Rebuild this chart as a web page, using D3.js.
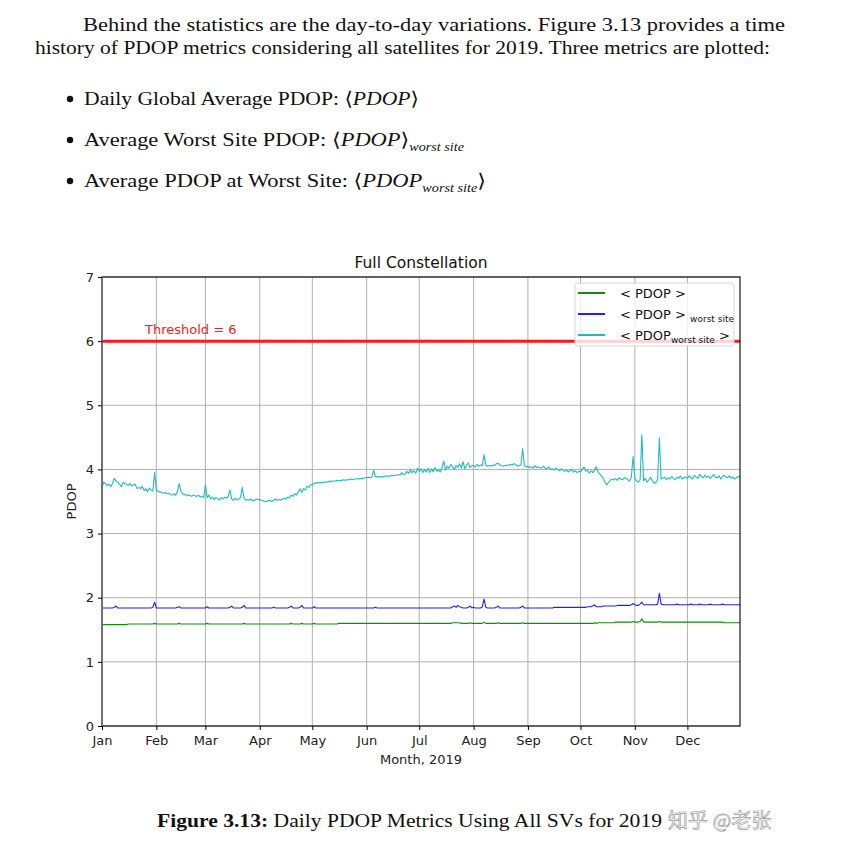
<!DOCTYPE html>
<html>
<head>
<meta charset="utf-8">
<script src="https://cdn.jsdelivr.net/npm/d3@7"></script>
<style>
  html, body { margin: 0; background: #ffffff; }
</style>
</head>
<body>
<div id="chart"></div>
<script>
// Daily PDOP metrics, all SVs, 2019 (one per day)

const startDate = "2019-01-01";
const monthLabels = ["Jan", "Feb", "Mar", "Apr", "May", "Jun", "Jul", "Aug", "Sep", "Oct", "Nov", "Dec"];
const yTicks = [0, 1, 2, 3, 4, 5, 6, 7];
const threshold = 6;

// <PDOP>
const pdopAvg = [
  1.58,1.58,1.58,1.58,1.58,1.58,1.58,1.58,1.58,1.58,1.58,1.58,1.58,1.58,1.58,1.59,1.59,1.59,1.59,1.59,1.59,1.59,1.59,1.59,1.59,1.59,1.59,1.59,1.59,1.59,1.60,
  1.59,1.59,1.59,1.59,1.59,1.59,1.59,1.59,1.59,1.59,1.59,1.59,1.59,1.60,1.59,1.59,1.59,1.59,1.59,1.59,1.59,1.59,1.59,1.59,1.59,1.59,1.59,1.59,
  1.59,1.60,1.59,1.59,1.59,1.59,1.59,1.59,1.59,1.59,1.59,1.59,1.59,1.59,1.59,1.59,1.59,1.59,1.59,1.59,1.59,1.59,1.60,1.59,1.59,1.59,1.59,1.59,1.59,1.59,1.59,
  1.59,1.59,1.59,1.59,1.59,1.59,1.59,1.59,1.59,1.59,1.59,1.59,1.59,1.59,1.59,1.59,1.59,1.59,1.60,1.59,1.59,1.59,1.59,1.59,1.60,1.59,1.59,1.59,1.59,1.59,
  1.59,1.60,1.59,1.59,1.59,1.59,1.59,1.59,1.59,1.59,1.59,1.59,1.59,1.59,1.59,1.60,1.60,1.60,1.60,1.60,1.60,1.60,1.60,1.60,1.60,1.60,1.60,1.60,1.60,1.60,1.60,
  1.60,1.60,1.60,1.60,1.60,1.60,1.60,1.60,1.60,1.60,1.60,1.60,1.60,1.60,1.60,1.60,1.60,1.60,1.60,1.60,1.60,1.60,1.60,1.60,1.60,1.60,1.60,1.60,1.60,1.60,
  1.60,1.60,1.60,1.60,1.60,1.60,1.60,1.60,1.60,1.60,1.60,1.60,1.60,1.60,1.60,1.60,1.60,1.60,1.60,1.61,1.61,1.61,1.61,1.61,1.60,1.60,1.60,1.60,1.60,1.61,1.60,
  1.60,1.60,1.60,1.60,1.60,1.60,1.62,1.60,1.60,1.60,1.60,1.60,1.60,1.60,1.61,1.60,1.60,1.60,1.60,1.60,1.60,1.60,1.60,1.60,1.60,1.60,1.60,1.60,1.61,1.60,1.60,
  1.60,1.60,1.60,1.60,1.60,1.60,1.60,1.60,1.60,1.60,1.60,1.60,1.60,1.60,1.60,1.60,1.60,1.60,1.60,1.60,1.60,1.60,1.60,1.60,1.60,1.60,1.60,1.60,1.60,1.60,
  1.60,1.60,1.60,1.60,1.60,1.60,1.60,1.60,1.61,1.60,1.61,1.61,1.61,1.61,1.61,1.61,1.61,1.61,1.61,1.61,1.62,1.62,1.62,1.62,1.62,1.62,1.62,1.62,1.62,1.62,1.63,
  1.62,1.62,1.62,1.63,1.67,1.62,1.62,1.62,1.62,1.62,1.62,1.62,1.62,1.62,1.63,1.62,1.62,1.62,1.62,1.62,1.62,1.62,1.62,1.62,1.62,1.62,1.62,1.62,1.62,1.62,
  1.62,1.62,1.62,1.62,1.62,1.62,1.62,1.62,1.62,1.62,1.62,1.62,1.62,1.62,1.62,1.62,1.62,1.62,1.62,1.62,1.62,1.61,1.61,1.61,1.61,1.61,1.61,1.61,1.61,1.61,1.61
];

// <PDOP>_worst site
const pdopWorst = [
  1.84,1.84,1.84,1.84,1.84,1.84,1.84,1.85,1.87,1.84,1.84,1.84,1.84,1.84,1.84,1.84,1.84,1.84,1.84,1.84,1.84,1.84,1.84,1.84,1.84,1.84,1.84,1.84,1.84,1.85,1.93,
  1.84,1.84,1.84,1.84,1.84,1.84,1.84,1.84,1.84,1.84,1.84,1.84,1.85,1.86,1.84,1.84,1.84,1.84,1.84,1.84,1.84,1.84,1.84,1.84,1.84,1.84,1.84,1.84,
  1.84,1.86,1.84,1.84,1.84,1.84,1.84,1.84,1.84,1.84,1.84,1.84,1.84,1.84,1.85,1.87,1.84,1.84,1.84,1.84,1.84,1.85,1.88,1.84,1.84,1.84,1.84,1.84,1.84,1.84,1.84,
  1.84,1.84,1.84,1.84,1.84,1.84,1.84,1.84,1.85,1.84,1.84,1.84,1.84,1.84,1.84,1.84,1.84,1.85,1.87,1.84,1.84,1.84,1.84,1.85,1.88,1.84,1.84,1.84,1.84,1.84,
  1.84,1.86,1.84,1.84,1.84,1.84,1.84,1.84,1.84,1.84,1.84,1.84,1.84,1.84,1.84,1.84,1.84,1.84,1.84,1.84,1.84,1.84,1.84,1.84,1.84,1.84,1.84,1.84,1.84,1.84,1.84,
  1.84,1.84,1.84,1.84,1.84,1.85,1.84,1.84,1.84,1.84,1.84,1.84,1.84,1.84,1.84,1.84,1.84,1.84,1.84,1.84,1.84,1.84,1.84,1.84,1.84,1.84,1.84,1.84,1.84,1.84,
  1.84,1.84,1.84,1.84,1.84,1.84,1.84,1.84,1.84,1.84,1.84,1.84,1.84,1.84,1.84,1.84,1.84,1.84,1.84,1.86,1.87,1.85,1.88,1.86,1.85,1.84,1.84,1.84,1.85,1.87,1.84,
  1.85,1.84,1.84,1.84,1.84,1.86,1.98,1.85,1.84,1.84,1.84,1.84,1.84,1.85,1.87,1.84,1.84,1.84,1.84,1.84,1.84,1.84,1.84,1.84,1.84,1.84,1.84,1.85,1.87,1.84,1.84,
  1.84,1.84,1.84,1.84,1.84,1.84,1.84,1.84,1.84,1.84,1.84,1.84,1.84,1.84,1.84,1.85,1.85,1.85,1.85,1.85,1.85,1.85,1.85,1.85,1.85,1.85,1.85,1.85,1.85,1.85,
  1.85,1.85,1.85,1.85,1.86,1.86,1.86,1.87,1.89,1.86,1.86,1.86,1.86,1.87,1.87,1.87,1.87,1.87,1.87,1.87,1.87,1.88,1.88,1.88,1.88,1.88,1.88,1.88,1.88,1.89,1.91,
  1.89,1.88,1.88,1.90,1.93,1.89,1.89,1.89,1.89,1.89,1.89,1.89,1.89,1.90,2.07,1.90,1.89,1.89,1.89,1.89,1.89,1.89,1.89,1.89,1.90,1.89,1.89,1.89,1.89,1.89,
  1.89,1.89,1.90,1.89,1.89,1.89,1.89,1.90,1.89,1.89,1.89,1.89,1.89,1.90,1.89,1.89,1.89,1.89,1.89,1.89,1.90,1.89,1.89,1.89,1.89,1.89,1.89,1.89,1.89,1.89,1.89
];

// <PDOP_worst site>
const pdopAtWorst = [
  3.72,3.80,3.78,3.75,3.77,3.73,3.78,3.86,3.82,3.80,3.77,3.73,3.80,3.78,3.77,3.75,3.78,3.74,3.76,3.77,3.70,3.72,3.70,3.74,3.67,3.70,3.65,3.71,3.68,3.66,3.95,
  3.68,3.66,3.65,3.64,3.63,3.64,3.62,3.63,3.61,3.60,3.62,3.60,3.65,3.78,3.66,3.62,3.60,3.61,3.59,3.60,3.58,3.60,3.59,3.58,3.60,3.57,3.58,3.56,
  3.76,3.56,3.60,3.54,3.57,3.53,3.56,3.55,3.52,3.56,3.54,3.57,3.55,3.58,3.68,3.54,3.52,3.55,3.53,3.54,3.56,3.72,3.56,3.52,3.53,3.52,3.54,3.51,3.52,3.54,3.53,
  3.53,3.52,3.51,3.50,3.50,3.52,3.51,3.50,3.52,3.54,3.52,3.53,3.52,3.54,3.55,3.54,3.57,3.56,3.60,3.58,3.62,3.60,3.65,3.70,3.64,3.70,3.68,3.74,3.72,3.76,
  3.76,3.79,3.78,3.80,3.79,3.80,3.79,3.81,3.80,3.81,3.82,3.81,3.82,3.82,3.83,3.82,3.83,3.83,3.84,3.83,3.84,3.84,3.85,3.84,3.85,3.85,3.86,3.85,3.86,3.86,3.87,
  3.87,3.88,3.87,3.88,3.99,3.89,3.88,3.89,3.88,3.89,3.89,3.90,3.89,3.90,3.90,3.91,3.90,3.91,3.92,3.91,3.95,3.92,3.93,3.97,3.94,4.00,3.95,3.98,3.94,4.02,
  3.97,4.01,3.95,4.00,3.96,4.02,3.95,4.01,3.96,4.03,3.97,4.00,3.96,4.03,4.13,3.99,4.05,4.02,4.08,4.04,4.00,4.06,4.03,4.09,4.02,4.12,4.01,4.07,4.10,4.03,4.06,
  4.06,4.04,4.08,4.05,4.07,4.06,4.23,4.07,4.05,4.06,4.05,4.07,4.06,4.09,4.10,4.07,4.06,4.05,4.06,4.07,4.06,4.08,4.07,4.09,4.08,4.05,4.06,4.07,4.33,4.06,4.04,
  4.05,4.03,4.04,4.02,4.06,4.03,4.04,4.02,4.03,4.05,4.01,4.02,4.04,4.00,4.01,3.99,4.02,4.00,3.98,4.01,3.99,3.97,3.99,3.96,3.98,4.00,3.96,3.98,3.95,3.97,
  3.96,4.00,4.04,3.97,3.99,3.94,3.98,3.95,3.99,4.04,3.96,3.93,3.90,3.86,3.80,3.76,3.80,3.83,3.85,3.84,3.86,3.83,3.87,3.85,3.84,3.87,3.86,3.84,3.82,3.88,4.20,
  3.86,3.82,3.80,3.84,4.54,3.82,3.86,3.80,3.84,3.88,3.82,3.78,3.80,3.84,4.49,3.85,3.86,3.88,3.84,3.87,3.85,3.89,3.86,3.84,3.88,3.86,3.90,3.85,3.87,3.88,
  3.86,3.90,3.87,3.85,3.91,3.88,3.86,3.92,3.89,3.87,3.91,3.88,3.90,3.86,3.89,3.92,3.88,3.87,3.90,3.85,3.89,3.91,3.88,3.87,3.90,3.86,3.88,3.85,3.87,3.89,3.88
];

function drawFigure() {
  const width = 853;
  const height = 853;
  const serif = '"Liberation Serif", "DejaVu Serif", serif';
  const sans = '"DejaVu Sans", sans-serif';

  const svg = d3.select("#chart")
    .append("svg")
    .attr("width", width)
    .attr("height", height)
    .attr("viewBox", [0, 0, width, height]);

  svg.append("rect").attr("width", width).attr("height", height).attr("fill", "#ffffff");

  // ---- surrounding document text ----
  svg.append("text")
    .attr("x", 83).attr("y", 31)
    .attr("font-family", serif).attr("font-size", 19).attr("fill", "#111")
    .attr("textLength", 702).attr("lengthAdjust", "spacingAndGlyphs")
    .text("Behind the statistics are the day-to-day variations.  Figure 3.13 provides a time");

  svg.append("text")
    .attr("x", 35).attr("y", 54)
    .attr("font-family", serif).attr("font-size", 19).attr("fill", "#111")
    .attr("textLength", 735).attr("lengthAdjust", "spacingAndGlyphs")
    .text("history of PDOP metrics considering all satellites for 2019. Three metrics are plotted:");

  const bullets = [
    { y: 105, len: 335, parts: [["Daily Global Average PDOP: \u27E8", ""], ["PDOP", "i"], ["\u27E9", ""]] },
    { y: 146, len: 380, parts: [["Average Worst Site PDOP: \u27E8", ""], ["PDOP", "i"], ["\u27E9", ""], ["worst site", "sub"]] },
    { y: 187, len: 402, parts: [["Average PDOP at Worst Site: \u27E8", ""], ["PDOP", "i"], ["worst site", "sub"], ["\u27E9", "up"]] }
  ];

  bullets.forEach(function(b) {
    svg.append("circle").attr("cx", 70).attr("cy", b.y - 6).attr("r", 3.2).attr("fill", "#111");
    const t = svg.append("text")
      .attr("x", 84).attr("y", b.y)
      .attr("font-family", serif).attr("font-size", 19).attr("fill", "#111")
      .attr("textLength", b.len).attr("lengthAdjust", "spacingAndGlyphs");
    b.parts.forEach(function(p) {
      const s = t.append("tspan").text(p[0]);
      if (p[1] === "i") {
        s.attr("font-style", "italic");
      } else if (p[1] === "sub") {
        s.attr("font-style", "italic").attr("font-size", 12).attr("dy", 5);
      } else if (p[1] === "up") {
        s.attr("dy", -5);
      }
    });
  });

  // caption
  const cap = svg.append("text")
    .attr("x", 157).attr("y", 827)
    .attr("font-family", serif).attr("font-size", 19).attr("fill", "#111")
    .attr("textLength", 505).attr("lengthAdjust", "spacingAndGlyphs");
  cap.append("tspan").attr("font-weight", "bold").text("Figure 3.13:");
  cap.append("tspan").text(" Daily PDOP Metrics Using All SVs for 2019");

  svg.append("text")
    .attr("x", 668).attr("y", 828)
    .attr("font-family", '"Noto Sans CJK SC", sans-serif').attr("font-size", 20)
    .attr("fill", "#ffffff").attr("stroke", "#9a9a9a").attr("stroke-width", 0.7)
    .text("\u77E5\u4E4E @\u8001\u5F20");

  // ---- chart ----
  const margin = { left: 102, right: 740, top: 277, bottom: 726 };
  const t0 = d3.timeParse("%Y-%m-%d")(startDate);
  const dates = pdopAtWorst.map(function(d, i) { return d3.timeDay.offset(t0, i); });
  const tEnd = dates[dates.length - 1];

  const x = d3.scaleTime().domain([t0, tEnd]).range([margin.left, margin.right]);
  const y = d3.scaleLinear().domain([0, 7]).range([margin.bottom, margin.top]);
  const monthStarts = d3.timeMonths(t0, tEnd);

  const plot = svg.append("g");

  // grid
  plot.append("g").selectAll("line").data(yTicks).join("line")
    .attr("x1", margin.left).attr("x2", margin.right)
    .attr("y1", function(d) { return y(d); }).attr("y2", function(d) { return y(d); })
    .attr("stroke", "#b0b0b0").attr("stroke-width", 1);
  plot.append("g").selectAll("line").data(monthStarts).join("line")
    .attr("x1", function(d) { return x(d); }).attr("x2", function(d) { return x(d); })
    .attr("y1", margin.top).attr("y2", margin.bottom)
    .attr("stroke", "#b0b0b0").attr("stroke-width", 1);

  // threshold
  plot.append("line")
    .attr("x1", margin.left).attr("x2", margin.right)
    .attr("y1", y(threshold)).attr("y2", y(threshold))
    .attr("stroke", "#ff1a1a").attr("stroke-width", 3);
  plot.append("text")
    .attr("x", 145).attr("y", y(threshold) - 7)
    .attr("font-family", sans).attr("font-size", 13).attr("fill", "#ee2222")
    .text("Threshold = " + threshold);

  const line = d3.line()
    .x(function(d, i) { return x(dates[i]); })
    .y(function(d) { return y(d); });

  const series = [
    { values: pdopAvg, color: "#138a13" },
    { values: pdopWorst, color: "#2323e6" },
    { values: pdopAtWorst, color: "#1fbdbd" }
  ];

  plot.append("g").selectAll("path").data(series).join("path")
    .attr("d", function(s) { return line(s.values); })
    .attr("fill", "none")
    .attr("stroke", function(s) { return s.color; })
    .attr("stroke-width", 1.1)
    .attr("stroke-linejoin", "round");

  // spines
  plot.append("rect")
    .attr("x", margin.left).attr("y", margin.top)
    .attr("width", margin.right - margin.left).attr("height", margin.bottom - margin.top)
    .attr("fill", "none").attr("stroke", "#000").attr("stroke-width", 1.1);
  plot.append("line")
    .attr("x1", margin.left).attr("x2", margin.left)
    .attr("y1", margin.top).attr("y2", margin.bottom)
    .attr("stroke", "#777").attr("stroke-width", 1.6);

  // axes
  const xAxis = d3.axisBottom(x)
    .tickValues(monthStarts)
    .tickFormat(function(d) { return monthLabels[d.getMonth()]; })
    .tickSize(4).tickPadding(6);
  const gx = svg.append("g").attr("transform", "translate(0," + margin.bottom + ")").call(xAxis);
  gx.select(".domain").remove();
  gx.selectAll("text").attr("font-family", sans).attr("font-size", 13).attr("fill", "#222");

  const yAxis = d3.axisLeft(y).tickValues(yTicks).tickFormat(d3.format("d")).tickSize(4).tickPadding(4);
  const gy = svg.append("g").attr("transform", "translate(" + margin.left + ",0)").call(yAxis);
  gy.select(".domain").remove();
  gy.selectAll("text").attr("font-family", sans).attr("font-size", 13).attr("fill", "#222");

  svg.append("text")
    .attr("x", (margin.left + margin.right) / 2).attr("y", 268)
    .attr("text-anchor", "middle")
    .attr("font-family", sans).attr("font-size", 15.5).attr("fill", "#111")
    .text("Full Constellation");

  svg.append("text")
    .attr("x", (margin.left + margin.right) / 2).attr("y", 764)
    .attr("text-anchor", "middle")
    .attr("font-family", sans).attr("font-size", 13).attr("fill", "#222")
    .text("Month, 2019");

  svg.append("text")
    .attr("transform", "translate(76," + ((margin.top + margin.bottom) / 2) + ") rotate(-90)")
    .attr("text-anchor", "middle")
    .attr("font-family", sans).attr("font-size", 13).attr("fill", "#222")
    .text("PDOP");

  // legend
  const legend = svg.append("g").attr("transform", "translate(575,283)");
  legend.append("rect")
    .attr("width", 159).attr("height", 63).attr("rx", 3)
    .attr("fill", "#ffffff").attr("fill-opacity", 0.8)
    .attr("stroke", "#d6d6d6").attr("stroke-width", 1);

  const legendRows = [
    [["< PDOP >", ""]],
    [["< PDOP > ", ""], ["worst site", "sub"]],
    [["< PDOP", ""], ["worst site", "sub"], [" >", "up"]]
  ];

  legendRows.forEach(function(row, i) {
    const ry = 10 + i * 21;
    legend.append("line")
      .attr("x1", 3).attr("x2", 30).attr("y1", ry).attr("y2", ry)
      .attr("stroke", series[i].color).attr("stroke-width", 2);
    const t = legend.append("text")
      .attr("x", 45).attr("y", ry + 5)
      .attr("font-family", sans).attr("font-size", 13).attr("fill", "#111");
    row.forEach(function(p) {
      const s = t.append("tspan").text(p[0]);
      if (p[1] === "sub") {
        s.attr("font-size", 9).attr("dy", 3);
      } else if (p[1] === "up") {
        s.attr("dy", -3);
      }
    });
  });
}

drawFigure();
</script>
</body>
</html>
